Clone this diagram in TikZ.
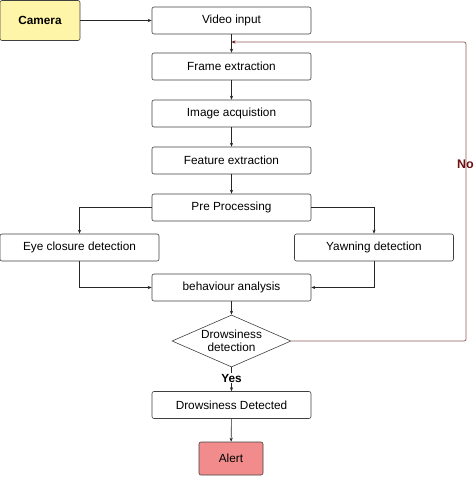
\documentclass[tikz,border=0pt]{standalone}
\usepackage{fontspec}
\setmainfont{Liberation Sans}
\usetikzlibrary{arrows.meta,shapes.geometric}
\definecolor{camfill}{HTML}{FFF5A8}
\definecolor{alertfill}{HTML}{F28C8C}
\definecolor{noline}{HTML}{8E5A5A}
\definecolor{notext}{HTML}{6E1010}
\begin{document}
\begin{tikzpicture}[x=1pt,y=-1pt,
  box/.style={draw=black!75,line width=0.6pt,rounded corners=2pt,minimum width=159pt,minimum height=27pt,inner sep=0pt,font=\fontsize{11.8}{14}\selectfont},
  dia/.style={draw=black!75,line width=0.6pt,diamond,aspect=2.3,minimum width=119pt,minimum height=52pt,inner sep=0pt,align=center,font=\fontsize{11.8}{13}\selectfont},
  conn/.style={draw=black!85,line width=0.6pt,-{Stealth[length=4pt,width=3.2pt]}},
  noconn/.style={draw=noline,line width=0.7pt,rounded corners=2pt,-{Stealth[length=4pt,width=3.2pt,color=notext]}}]
\useasboundingbox (0,0) rectangle (474,477);
\node[box,fill=camfill,minimum width=80pt,minimum height=40pt,font=\fontsize{11.8}{14}\selectfont\bfseries] (cam) at (40,20.5) {Camera};
\node[box] (video) at (231.5,20.5) {Video input};
\node[box] (frame) at (231.5,66.5) {Frame extraction};
\node[box] (image) at (231.5,113.5) {Image acquistion};
\node[box] (feat) at (231.5,160.5) {Feature extraction};
\node[box] (pre) at (231.5,207.5) {Pre Processing};
\node[box] (eye) at (79.5,247.5) {Eye closure detection};
\node[box] (yawn) at (374,247.5) {Yawning detection};
\node[box] (beh) at (231.5,287.5) {behaviour analysis};
\node[dia] (drow) at (231.5,341) {Drowsiness\\detection};
\node[box] (det) at (231.5,405) {Drowsiness Detected};
\node[box,fill=alertfill,minimum width=64pt,minimum height=33pt] (alert) at (231,458.5) {Alert};
\node[font=\fontsize{11.8}{14}\selectfont\bfseries,fill=white,inner sep=1pt] (yes) at (231.5,378) {Yes};
\node[font=\fontsize{12.5}{14}\selectfont\bfseries,text=notext,anchor=west,inner sep=0pt] (no) at (457,164) {No};
\coordinate (fb) at (231.5,42);
\draw[conn] (cam.east) -- (video.west);
\draw[conn] (video) -- (frame);
\draw[conn] (frame) -- (image);
\draw[conn] (image) -- (feat);
\draw[conn] (feat) -- (pre);
\draw[conn] (pre.west) -| (eye.north);
\draw[conn] (pre.east) -| (yawn.north);
\draw[conn] (eye.south) |- (beh.west);
\draw[conn] (yawn.south) |- (beh.east);
\draw[conn] (beh) -- (drow);
\draw[line width=0.6pt,black!85] (drow.south) -- (yes.north);
\draw[conn] (yes.south) -- (det.north);
\draw[conn] (det) -- (alert);
\draw[noconn] (drow.east) -- (466,341) -- (466,42) -- (fb);
\end{tikzpicture}
\end{document}
